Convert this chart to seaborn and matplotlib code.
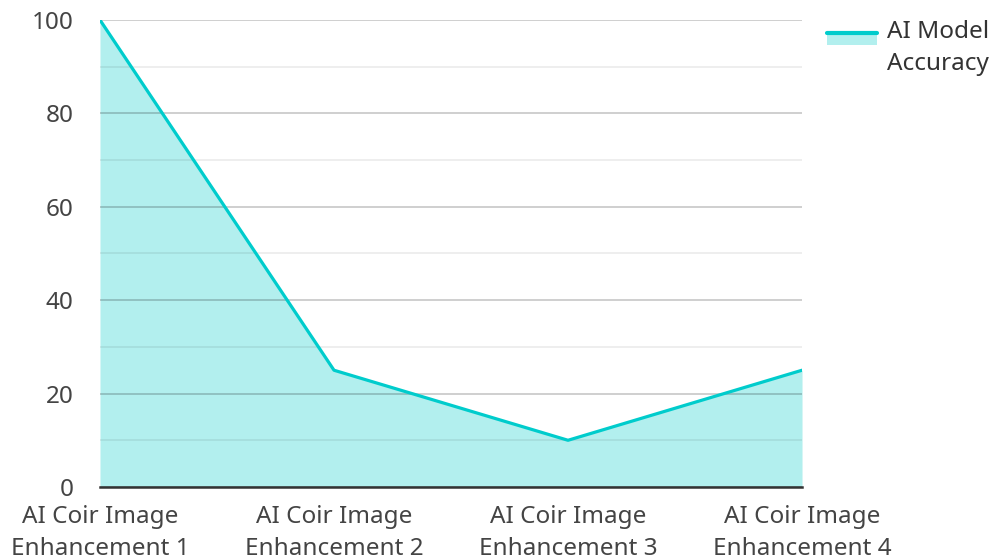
import matplotlib
matplotlib.use("Agg")
import matplotlib.pyplot as plt
import seaborn as sns
import pandas as pd
from matplotlib.patches import Rectangle
from matplotlib.lines import Line2D
from matplotlib.legend_handler import HandlerBase
from matplotlib.ticker import MultipleLocator

categories = ["AI Coir Image\nEnhancement 1", "AI Coir Image\nEnhancement 2",
              "AI Coir Image\nEnhancement 3", "AI Coir Image\nEnhancement 4"]
accuracy = [100, 25, 10, 25]
series_name = "AI Model\nAccuracy"

sns.set_theme(style="white")
plt.rcParams['font.family'] = ['Noto Sans', 'DejaVu Sans']

line_color = "#00cccc"
fill_color = "#b2efee"
FS = 17.5


class AreaHandler(HandlerBase):
    def create_artists(self, legend, orig_handle, xdescent, ydescent,
                       width, height, fontsize, trans):
        h = height
        y0 = -ydescent + 7.5
        rect = Rectangle((-xdescent, y0), width, h * 0.85, facecolor=fill_color,
                         edgecolor="none", transform=trans)
        ln = Line2D([-xdescent, -xdescent + width], [y0 + h * 0.85, y0 + h * 0.85],
                    color=line_color, linewidth=3, transform=trans)
        return [rect, ln]


fig = plt.figure(figsize=(9.92, 5.6), dpi=100)
ax = fig.add_axes([0.1008, 0.1304, 0.7077, 0.8339])

df = pd.DataFrame({"x": list(range(len(categories))), "y": accuracy})
ax.fill_between(df["x"], df["y"], 0, color=fill_color, linewidth=0, zorder=0.2)
sns.lineplot(data=df, x="x", y="y", ax=ax, color=line_color, linewidth=2.3, zorder=3)

ax.set_xlim(0, len(categories) - 1)
ax.set_ylim(0, 100)
ax.set_xticks(range(len(categories)))
ax.set_xticklabels(categories)
ax.yaxis.set_major_locator(MultipleLocator(20))
ax.yaxis.set_minor_locator(MultipleLocator(10))
ax.grid(which="major", axis="y", color="black", alpha=0.22, linewidth=1.2, zorder=1)
ax.grid(which="minor", axis="y", color="black", alpha=0.08, linewidth=1.2, zorder=1)
ax.set_axisbelow(False)
ax.set_xlabel("")
ax.set_ylabel("")
for s in ["left", "right", "top"]:
    ax.spines[s].set_visible(False)
ax.spines["bottom"].set_color("#333333")
ax.spines["bottom"].set_linewidth(1.8)
ax.spines["bottom"].set_zorder(4)
ax.tick_params(axis="both", which="both", length=0, labelsize=FS, colors="#444444")
ax.tick_params(axis="y", pad=19)
ax.tick_params(axis="x", pad=13)
for t in ax.get_xticklabels():
    t.set_linespacing(1.45)

leg = fig.legend([object()], [series_name], loc="upper left",
                 handler_map={object: AreaHandler()},
                 bbox_to_anchor=(0.834, 0.965), frameon=False, fontsize=FS,
                 handlelength=2.06, handleheight=0.5, handletextpad=0.41,
                 labelcolor="#333333", borderaxespad=0, borderpad=0)
for t in leg.get_texts():
    t.set_linespacing(1.45)

fig.savefig("out.png", dpi=100)
